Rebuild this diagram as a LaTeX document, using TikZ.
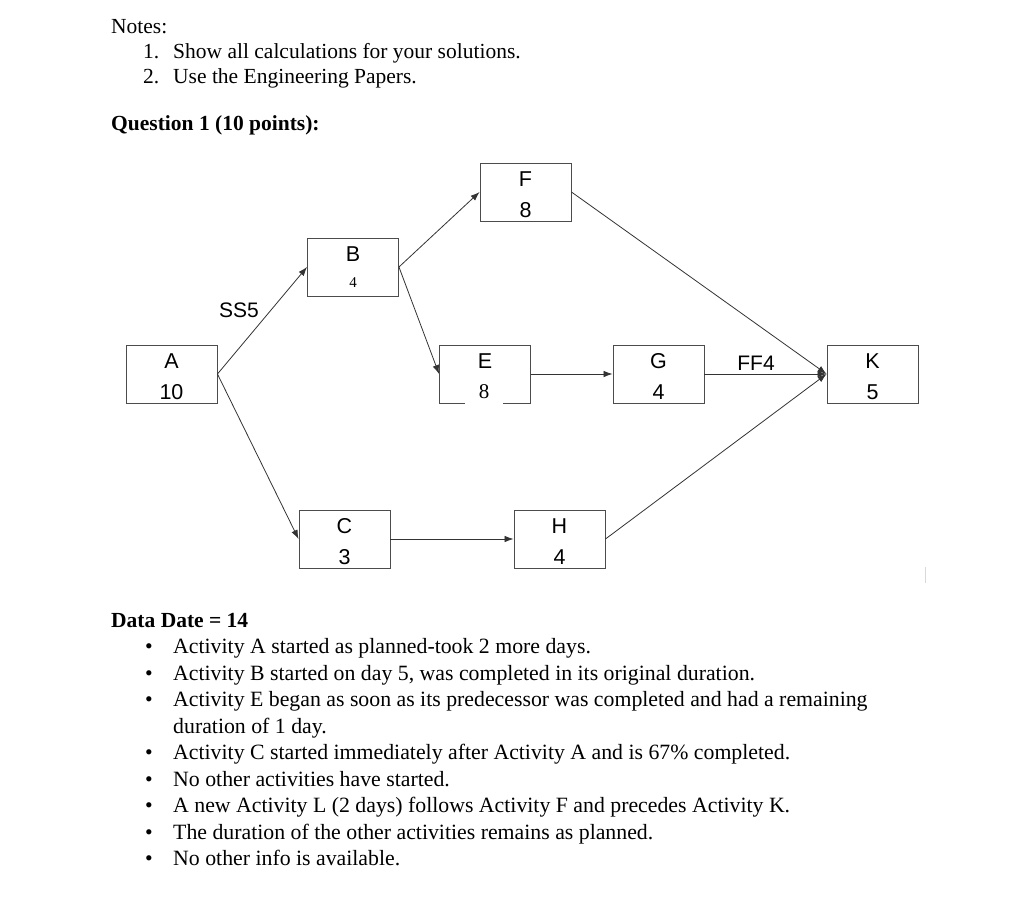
\documentclass[tikz,border=0pt]{standalone}
\usepackage{fontspec}
\setmainfont{Liberation Serif}
\newfontfamily\diag{Liberation Sans}
\usetikzlibrary{arrows.meta}
\tikzset{
  box/.style={draw=black!70, line width=0.9pt, minimum width=91, minimum height=58,
    inner sep=0, align=center, text height=51,
    font=\diag\fontsize{21.5}{31}\selectfont},
  arr/.style={draw=black!80, line width=0.8pt, -{Latex[length=9pt,width=6.5pt]}},
  txt/.style={anchor=base west, inner sep=0, font=\fontsize{21.5}{26}\selectfont},
  dtxt/.style={anchor=base west, inner sep=0, font=\fontsize{21.8}{26}\selectfont},
  btxt/.style={txt, font=\fontsize{21.5}{26}\selectfont\bfseries},
  lbl/.style={anchor=base, inner sep=0, font=\diag\fontsize{21}{24}\selectfont},
}
\begin{document}
\begin{tikzpicture}[x=1pt,y=-1pt]
\useasboundingbox (0,0) rectangle (1024,919);
% header text
\node[txt] (notes) at (111,33) {Notes:};
\node[txt] (n1) at (143,58) {1.};
\node[txt] (t1) at (173,58) {Show all calculations for your solutions.};
\node[txt] (n2) at (143,83) {2.};
\node[txt] (t2) at (173,83) {Use the Engineering Papers.};
\node[btxt] (q1) at (111,130) {Question 1 (10 points):};
% network boxes
\node[box] (A) at (171.5,374) {A\\10};
\node[box, text height=41, font=\diag\fontsize{21.5}{26}\selectfont] (B) at (353,267) {B\\{\rmfamily\fontsize{15}{15}\selectfont 4}};
\node[box] (F) at (525.5,192) {F\\8};
\node[box] (E) at (485,374) {E\\\phantom{8}};
\node[anchor=base, fill=white, minimum width=38, inner xsep=0, inner ysep=5,
      font=\fontsize{21}{21}\selectfont] (E8) at (484,398.5) {8};
\node[box] (G) at (658.5,374) {G\\4};
\node[box] (K) at (872.5,374) {K\\5};
\node[box] (C) at (344.5,539) {C\\3};
\node[box] (H) at (559.5,539) {H\\4};
% connectors
\draw[arr] (A.east) -- (B.west);
\draw[arr] (A.east) -- (C.west);
\draw[arr] (B.east) -- (F.west);
\draw[arr] (B.east) -- (E.west);
\draw[arr] (E.east) -- (G.west);
\draw[arr] (C.east) -- (H.west);
\draw[arr] (F.east) -- (K.west);
\draw[arr] (G.east) -- (K.west);
\draw[arr] (H.east) -- (K.west);
\node[lbl] (ss5) at (239,317) {SS5};
\node[lbl] (ff4) at (756,370) {FF4};
% small artifact
\draw[black!15, line width=0.8pt] (925,567) -- (925,583);
% data text
\node[btxt] (dd) at (111,627) {Data Date = 14};
\foreach \yy/\ttxt [count=\i] in {
  653.5/{Activity A started as planned-took 2 more days.},
  680/{Activity B started on day 5, was completed in its original duration.},
  706.5/{Activity E began as soon as its predecessor was completed and had a remaining},
  759.5/{Activity C started immediately after Activity A and is 67\% completed.},
  786/{No other activities have started.},
  812.5/{A new Activity L (2 days) follows Activity F and precedes Activity K.},
  839/{The duration of the other activities remains as planned.},
  865.5/{No other info is available.}}{
  \node[dtxt] (b\i) at (145,\yy) {\textbullet};
  \node[dtxt] (l\i) at (173,\yy) {\ttxt};
}
\node[dtxt] (l3b) at (173,733) {duration of 1 day.};
\end{tikzpicture}
\end{document}
